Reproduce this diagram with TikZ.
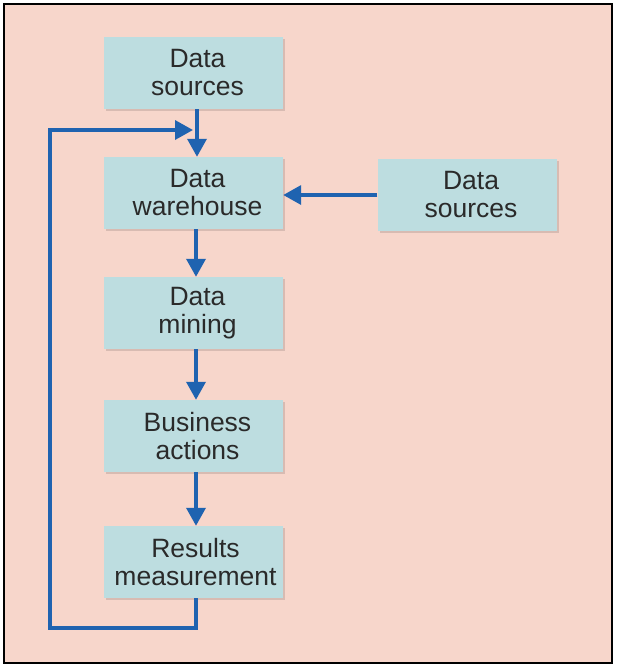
\documentclass[tikz,border=0pt]{standalone}
\usepackage{fontspec}
\setmainfont{Liberation Sans}
\usetikzlibrary{arrows.meta,shadows}
\definecolor{bg}{HTML}{F7D6CB}
\definecolor{bx}{HTML}{BDDDE0}
\definecolor{ar}{HTML}{1F63B0}
\definecolor{tx}{HTML}{2A2A2A}
\begin{document}
\begin{tikzpicture}[x=1pt,y=-1pt,
  box/.style={fill=bx,minimum width=179pt,minimum height=72pt,align=center,inner sep=0pt,
    font=\fontsize{26.5pt}{28pt}\selectfont,text=tx,
    drop shadow={shadow xshift=2pt,shadow yshift=-2pt,fill=black,opacity=0.12}},
  arr/.style={draw=ar,line width=3.5pt,-{Triangle[length=18pt,width=19pt]}}]
\useasboundingbox (0,0) rectangle (617,667);
\draw[fill=bg,line width=1.8pt] (4,4) rectangle (612,663);
\node[box] (ds1) at (193.5,73) {\hspace*{8pt}Data\\\hspace*{8pt}sources};
\node[box] (dw) at (193.5,193) {\hspace*{8pt}Data\\\hspace*{8pt}warehouse};
\node[box] (dm) at (193.5,313) {\hspace*{8pt}Data\\\hspace*{8pt}mining};
\node[box] (ba) at (193.5,436) {\hspace*{8pt}Business\\\hspace*{8pt}actions};
\node[box] (rm) at (193.5,562) {\hspace*{4pt}Results\\\hspace*{4pt}measurement};
\node[box] (ds2) at (467,194.5) {\hspace*{8pt}Data\\\hspace*{8pt}sources};
\coordinate (fb) at (193,130);
\draw[arr] (ds1.south -| 197,0) -- (dw.north -| 197,0);
\draw[arr] (ds2.west |- 0,195) -- (dw.east |- 0,195);
\draw[arr] (dw.south -| 196,0) -- (dm.north -| 196,0);
\draw[arr] (dm.south -| 196,0) -- (ba.north -| 196,0);
\draw[arr] (ba.south -| 196,0) -- (rm.north -| 196,0);
\draw[arr] (rm.south -| 196,0) -- (196,628) -- (50,628) -- (50,130) -- (fb);
\end{tikzpicture}
\end{document}
